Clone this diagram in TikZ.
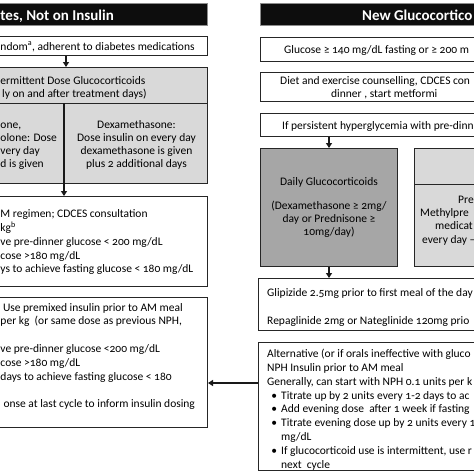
\documentclass[tikz,border=0pt]{standalone}
\usepackage{fontspec}
\setmainfont{Carlito}[Numbers=OldStyle]
\usetikzlibrary{arrows.meta}

\tikzset{
  wbox/.style={draw=black!85, line width=1pt, fill=white, inner sep=0pt, anchor=north west},
  gbox/.style={wbox, fill=black!15},
  dbox/.style={wbox, fill=black!35},
  hbar/.style={draw=black!45, line width=1pt, fill=black!95, inner sep=0pt, anchor=north west},
  txt/.style={inner sep=0pt, font=\fontsize{11.5}{13.8}\selectfont},
  ttl/.style={inner sep=0pt, text=white, font=\fontsize{15}{17}\selectfont\bfseries},
  arr/.style={line width=1.2pt, draw=black!90, -{Triangle[width=6pt,length=5pt]}},
}

\begin{document}
\begin{tikzpicture}[x=1pt,y=1pt,yscale=-1]
        \useasboundingbox (0,0) rectangle (474,474);
        \clip (0,0) rectangle (474,474);

        % left column
        \node[hbar, minimum width=247pt, minimum height=22pt] (hdrL) at (-40,3) {};
        \node[wbox, minimum width=247pt, minimum height=19pt] (L1) at (-40,36) {};
        \node[gbox, minimum width=247pt, minimum height=116pt] (L2) at (-40,67) {};
        \node[wbox, minimum width=247pt, minimum height=90pt] (L3) at (-40,196) {};
        \node[wbox, minimum width=247pt, minimum height=130pt] (L4) at (-40,297) {};
        \draw[line width=1pt, draw=black!85] (L2.west |- 0,103) -- (L2.east |- 0,103);
        \coordinate (Lsplit) at (64,103);

        % right column
        \node[hbar, minimum width=260pt, minimum height=22pt] (hdrR) at (260,3) {};
        \node[wbox, minimum width=260pt, minimum height=24pt] (R1) at (260,37) {};
        \node[wbox, minimum width=260pt, minimum height=29pt] (R2) at (260,72) {};
        \node[wbox, minimum width=260pt, minimum height=23pt] (R3) at (260,113) {};
        \node[dbox, minimum width=137pt, minimum height=118pt] (R4) at (260,148) {};
        \node[gbox, minimum width=100pt, minimum height=118pt] (R5) at (414,148) {};
        \draw[line width=1pt, draw=black!85] (R5.west |- 0,184) -- (R5.east |- 0,184);
        \node[wbox, minimum width=260pt, minimum height=52pt] (R6) at (258,278) {};
        \node[wbox, minimum width=260pt, minimum height=128pt] (R7) at (258,342) {};

        % connectors
        \draw[arr] (L1.south -| 66,0) -- (L2.north -| 66,0);
        \draw[arr] (Lsplit) -- (Lsplit |- L3.north);
        \draw[arr] (R3.south -| R4.north) -- (R4.north);
        \draw[arr] (R4.south) -- (R4.south |- R6.north);
        \draw[arr] (R7.west |- 0,383) -- (L4.east |- 0,383);

        % texts
        \node[ttl, anchor=base east] (hdrLt) at (114,20) {tes, Not on Insulin};
        \node[ttl, anchor=base west] (hdrRt) at (362,20) {New Glucocortico};
        \node[txt, anchor=base west] (L1t) at (0.3,50) {ndom\textsuperscript{a}, adherent to diabetes medications};
        \node[txt, anchor=base west] (L2ta) at (0.3,84) {ermittent Dose Glucocorticoids};
        \node[txt, anchor=base west] (L2tb) at (2,97) {ly on and after treatment days)};
        \node[txt, anchor=base west] (predA) at (0.3,128) {one,};
        \node[txt, anchor=base west] (predB) at (0.3,141) {olone: Dose};
        \node[txt, anchor=base west] (predC) at (0.3,154) {very day};
        \node[txt, anchor=base west] (predD) at (0.3,167) {d is given};
        \node[txt, anchor=north, align=center, font=\fontsize{11.5}{13}\selectfont] (dexa) at (136.5,120) {Dexamethasone:\\Dose insulin on every day\\dexamethasone is given\\plus 2 additional days};
        \node[txt, anchor=north west, align=left] (L3t) at (0.3,209.5) {M regimen; CDCES consultation\\kg\textsuperscript{b}\\ve pre-dinner glucose < 200 mg/dL\\cose >180 mg/dL\\ys to achieve fasting glucose < 180 mg/dL};
        \node[txt, anchor=north west, align=left] (L4t) at (0.3,303) {\hspace{2.5pt}Use premixed insulin prior to AM meal\\per kg~ (or same dose as previous NPH,\\[13.8pt]ve pre-dinner glucose <200 mg/dL\\cose >180 mg/dL\\days to achieve fasting glucose < 180\\[13.8pt]\hspace{3pt}onse at last cycle to inform insulin dosing};

        \node[txt, anchor=base west] (R1t) at (284,53) {Glucose ≥ 140 mg/dL fasting or ≥ 200 m};
        \node[txt, anchor=base west] (R2ta) at (280,84) {Diet and exercise counselling, CDCES con};
        \node[txt, anchor=base west] (R2tb) at (331,97) {dinner , start metformi};
        \node[txt, anchor=base west] (R3t) at (282,129) {If persistent hyperglycemia with pre-dinn};
        \node[txt, anchor=north, align=center, font=\fontsize{11.5}{13}\selectfont] (R4t) at (329,177) {Daily Glucocorticoids\\[11pt](Dexamethasone ≥ 2mg/\\day or Prednisone ≥\\10mg/day)};
        \node[txt, anchor=base west] (R5ta) at (458,203) {Pre};
        \node[txt, anchor=base west] (R5tb) at (420,216) {Methylpre};
        \node[txt, anchor=base west] (R5tc) at (435,229) {medicat};
        \node[txt, anchor=base west] (R5td) at (422,243) {every day –};
        \node[txt, anchor=base west] (R6ta) at (267,296) {Glipizide 2.5mg prior to first meal of the day};
        \node[txt, anchor=base west] (R6tb) at (267,324) {Repaglinide 2mg or Nateglinide 120mg prio};
        \node[txt, anchor=north west, align=left, font=\fontsize{11.5}{13.9}\selectfont] (R7t) at (267,348.7) {Alternative (or if orals ineffective with gluco\\NPH Insulin prior to AM meal\\Generally, can start with NPH 0.1 units per k\\\makebox[14pt]{\textbullet}Titrate up by 2 units every 1-2 days to ac\\\makebox[14pt]{\textbullet}Add evening dose~ after 1 week if fasting\\\makebox[14pt]{\textbullet}Titrate evening dose up by 2 units every 1\\\hspace{14pt}mg/dL\\\makebox[14pt]{\textbullet}If glucocorticoid use is intermittent, use r\\\hspace{14pt}next~ cycle};
\end{tikzpicture}
\end{document}
